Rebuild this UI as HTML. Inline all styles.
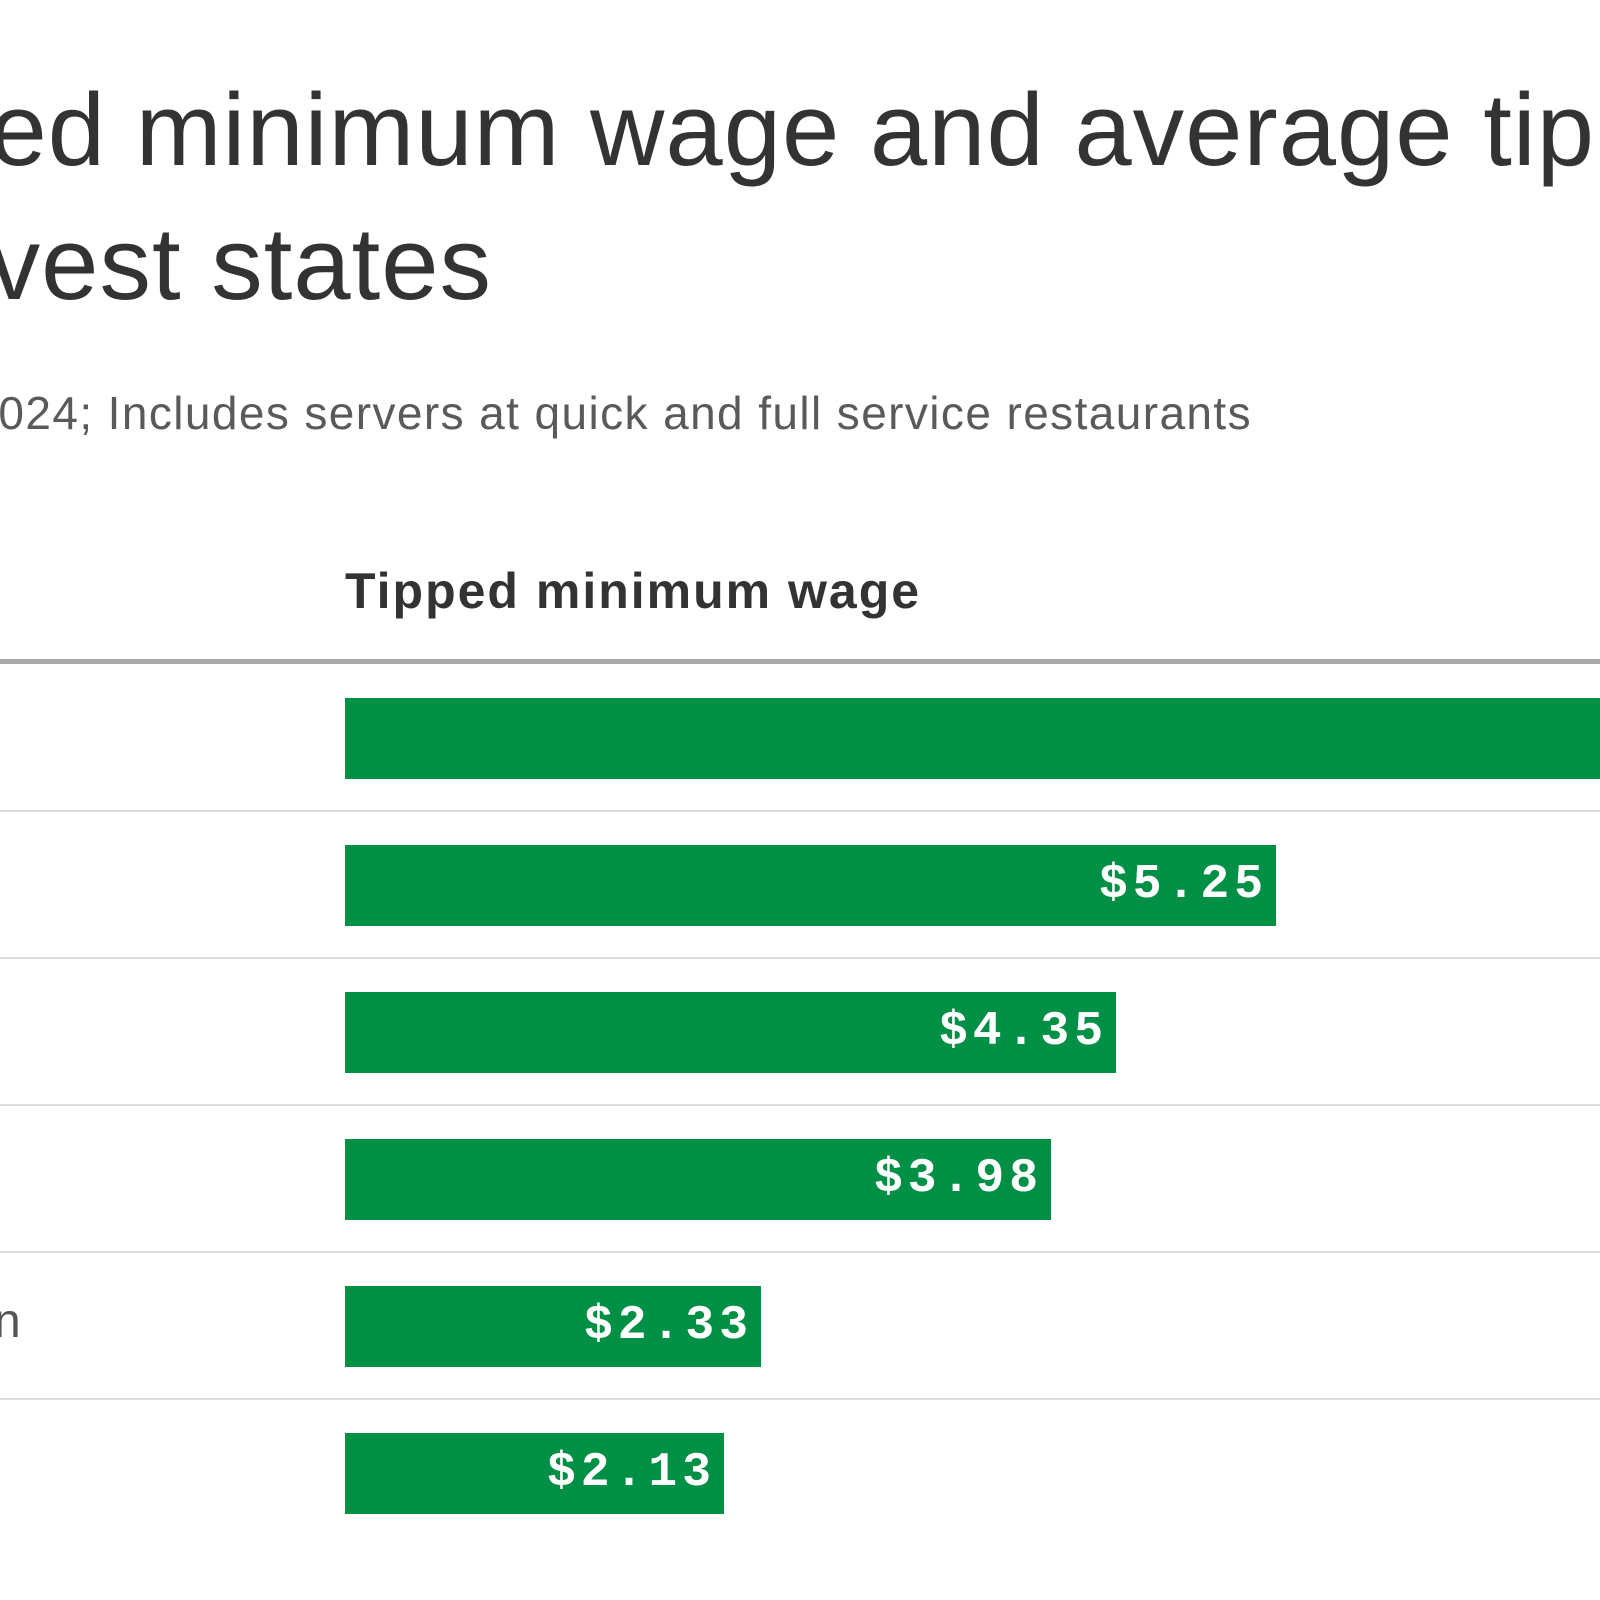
<!DOCTYPE html>
<html><head><meta charset="utf-8"><style>
html,body{margin:0;padding:0;width:1600px;height:1600px;background:#fff;overflow:hidden;position:relative;font-family:"Liberation Sans",sans-serif;}
.t{position:absolute;white-space:nowrap;color:#333;}
.bar{position:absolute;left:345px;height:81px;background:#009045;color:#fff;font-family:"Liberation Mono",monospace;font-size:48px;font-weight:bold;letter-spacing:5px;text-align:right;line-height:81px;box-sizing:border-box;padding-right:8px;}
.sep{position:absolute;left:0;width:1600px;height:2px;background:#ddd;}
</style></head><body>
<div class="t" style="right:5px;top:70px;font-size:103px;letter-spacing:1px;line-height:120px;">ed minimum wage and average tip</div>
<div class="t" style="right:1108px;top:204px;font-size:103px;letter-spacing:1px;line-height:120px;">vest states</div>
<div class="t" style="right:348px;top:386px;font-size:46px;letter-spacing:1.4px;line-height:54px;color:#5a5a5a;">024; Includes servers at quick and full service restaurants</div>
<div class="t" style="left:345px;top:563px;font-size:50px;letter-spacing:2px;line-height:56px;font-weight:bold;">Tipped minimum wage</div>
<div style="position:absolute;left:0;top:659px;width:1600px;height:5px;background:#aaa;"></div>
<div class="bar" style="top:698px;width:1300px;"></div>
<div class="sep" style="top:810px"></div>
<div class="bar" style="top:845px;width:931px;">$5.25</div>
<div class="sep" style="top:957px"></div>
<div class="bar" style="top:992px;width:771px;">$4.35</div>
<div class="sep" style="top:1104px"></div>
<div class="bar" style="top:1139px;width:706px;">$3.98</div>
<div class="sep" style="top:1251px"></div>
<div class="bar" style="top:1286px;width:416px;">$2.33</div>
<div class="sep" style="top:1398px"></div>
<div class="bar" style="top:1433px;width:379px;">$2.13</div>
<div class="t" style="left:-6px;top:1294px;font-size:48px;line-height:56px;color:#555;">n</div>
</body></html>
